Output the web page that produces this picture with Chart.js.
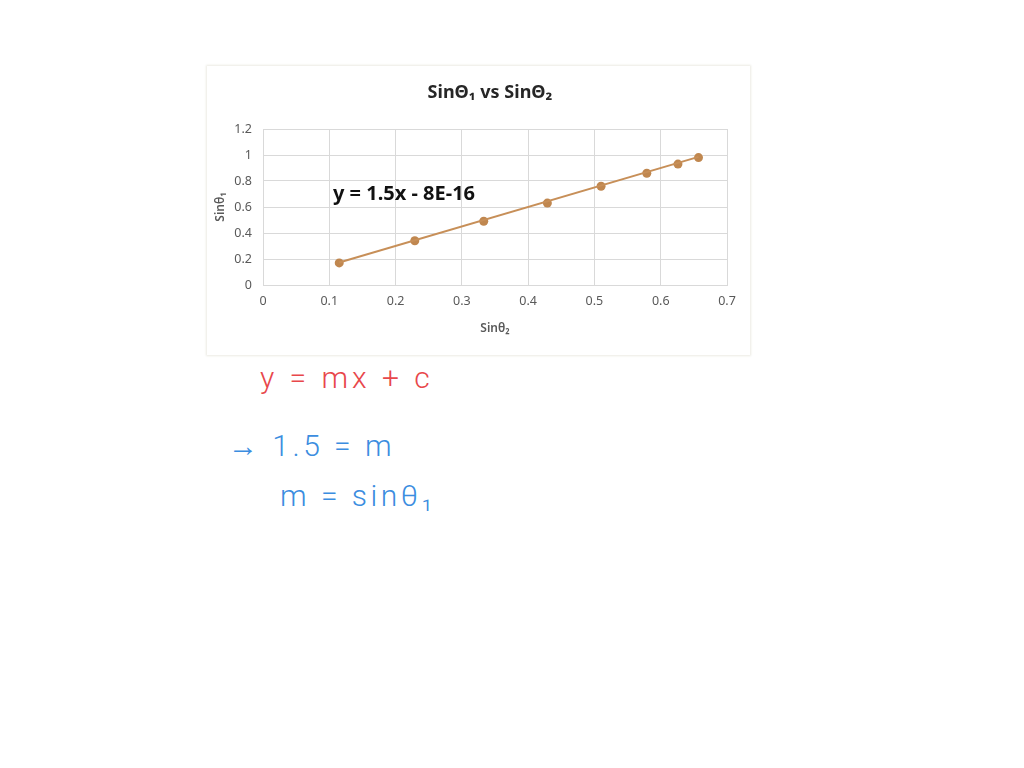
<!DOCTYPE html>
<html>
<head>
<meta charset="utf-8">
<script src="https://cdn.jsdelivr.net/npm/chart.js@4.4.0/dist/chart.umd.min.js"></script>
<style>
  html, body { margin: 0; padding: 0; background: #ffffff; }
  body { width: 1024px; height: 768px; position: relative; overflow: hidden; }
  #box { position: absolute; left: 207px; top: 66px; width: 543px; height: 289px;
         box-shadow: 0 0 2px 1px #ecebe4; background: #fff; }
  #c { position: absolute; left: 0; top: 0; }
  .hand { position: absolute; font-family: "Roboto", sans-serif; font-weight: 300; white-space: nowrap; }
  #h1 { left: 260px; top: 360px; color: #e8474b; font-size: 30px; letter-spacing: 4px; }
  #h2 { left: 228px; top: 428px; color: #3b8de0; font-size: 30px; letter-spacing: 3.5px; }
  #h3 { left: 280px; top: 478px; color: #3b8de0; font-size: 30px; letter-spacing: 3.5px; }
</style>
</head>
<body>
<div id="box"><canvas id="c" width="543" height="289"></canvas></div>
<div class="hand" id="h1">y = mx + c</div>
<div class="hand" id="h2">→ 1.5 = m</div>
<div class="hand" id="h3">m = sinθ₁</div>
<script>
// ---- data ----
const sinTheta2 = [0.115, 0.229, 0.333, 0.429, 0.510, 0.579, 0.626, 0.657];
const sinTheta1 = [0.17, 0.34, 0.49, 0.63, 0.76, 0.86, 0.93, 0.98];
const trendX = [0.115, 0.657];
const trendY = [0.1725, 0.9855];
const xTicks = [0, 0.1, 0.2, 0.3, 0.4, 0.5, 0.6, 0.7];
const xTickLabels = ["0", "0.1", "0.2", "0.3", "0.4", "0.5", "0.6", "0.7"];
const yTicks = [0, 0.2, 0.4, 0.6, 0.8, 1, 1.2];
const yTickLabels = ["0", "0.2", "0.4", "0.6", "0.8", "1", "1.2"];
const chartTitle = "SinΘ₁ vs SinΘ₂";
const xTitle = "Sinθ₂";
const yTitle = "Sinθ₁";
const equation = "y = 1.5x - 8E-16";

const FONT = "'Noto Sans', 'Open Sans', sans-serif";
const tickColor = "#595959";
const gridColor = "#d9d9d9";
const markerColor = "#c0874f";
const lineColor = "#c78f58";

const textPlugin = {
  id: 'textPlugin',
  afterDraw(chart) {
    const ctx = chart.ctx;
    ctx.save();
    ctx.fillStyle = "#262626";
    ctx.font = "bold 18px " + FONT;
    ctx.textAlign = "center";
    ctx.textBaseline = "middle";
    ctx.fillText(chartTitle, 283, 27);
    const xs = chart.scales.x, ys = chart.scales.y;
    ctx.fillStyle = "#111111";
    ctx.font = "bold 20px " + FONT;
    ctx.textAlign = "left";
    ctx.fillText(equation, xs.getPixelForValue(0.1056), ys.getPixelForValue(0.70));
    ctx.restore();
  }
};

new Chart(document.getElementById('c'), {
  type: 'scatter',
  data: {
    datasets: [
      {
        label: 'trend',
        data: trendX.map((x, i) => ({ x: x, y: trendY[i] })),
        showLine: true,
        borderColor: lineColor,
        borderWidth: 2,
        pointRadius: 0,
        fill: false
      },
      {
        label: 'data',
        data: sinTheta2.map((x, i) => ({ x: x, y: sinTheta1[i] })),
        backgroundColor: markerColor,
        borderColor: markerColor,
        pointRadius: 4.5,
        pointBorderWidth: 0,
        showLine: false
      }
    ]
  },
  options: {
    responsive: false,
    animation: false,
    devicePixelRatio: 1,
    layout: { padding: { top: 63, right: 23, left: 0, bottom: 0 } },
    plugins: { legend: { display: false }, title: { display: false }, tooltip: { enabled: false } },
    scales: {
      x: {
        type: 'linear', min: 0, max: 0.7,
        afterBuildTicks: s => { s.ticks = xTicks.map(v => ({ value: v })); },
        afterFit: s => { s.height = 70; },
        ticks: {
          color: tickColor, font: { family: FONT, size: 12.5 }, padding: 9,
          callback: (v, i) => xTickLabels[i]
        },
        grid: { color: gridColor, lineWidth: 1, drawTicks: false },
        border: { color: gridColor },
        title: { display: true, text: xTitle, color: tickColor,
                 font: { family: FONT, size: 12, weight: '600' }, padding: { top: 0, bottom: 19 } }
      },
      y: {
        type: 'linear', min: 0, max: 1.2,
        afterBuildTicks: s => { s.ticks = yTicks.map(v => ({ value: v })); },
        afterFit: s => { s.width = 56; },
        ticks: {
          color: tickColor, font: { family: FONT, size: 12.5 }, padding: 11,
          callback: (v, i) => yTickLabels[i]
        },
        grid: { color: gridColor, lineWidth: 1, drawTicks: false },
        border: { color: gridColor },
        title: { display: true, text: yTitle, color: tickColor,
                 font: { family: FONT, size: 12, weight: '600' }, padding: { top: 6, bottom: 0 } }
      }
    }
  },
  plugins: [textPlugin]
});
</script>
</body>
</html>
